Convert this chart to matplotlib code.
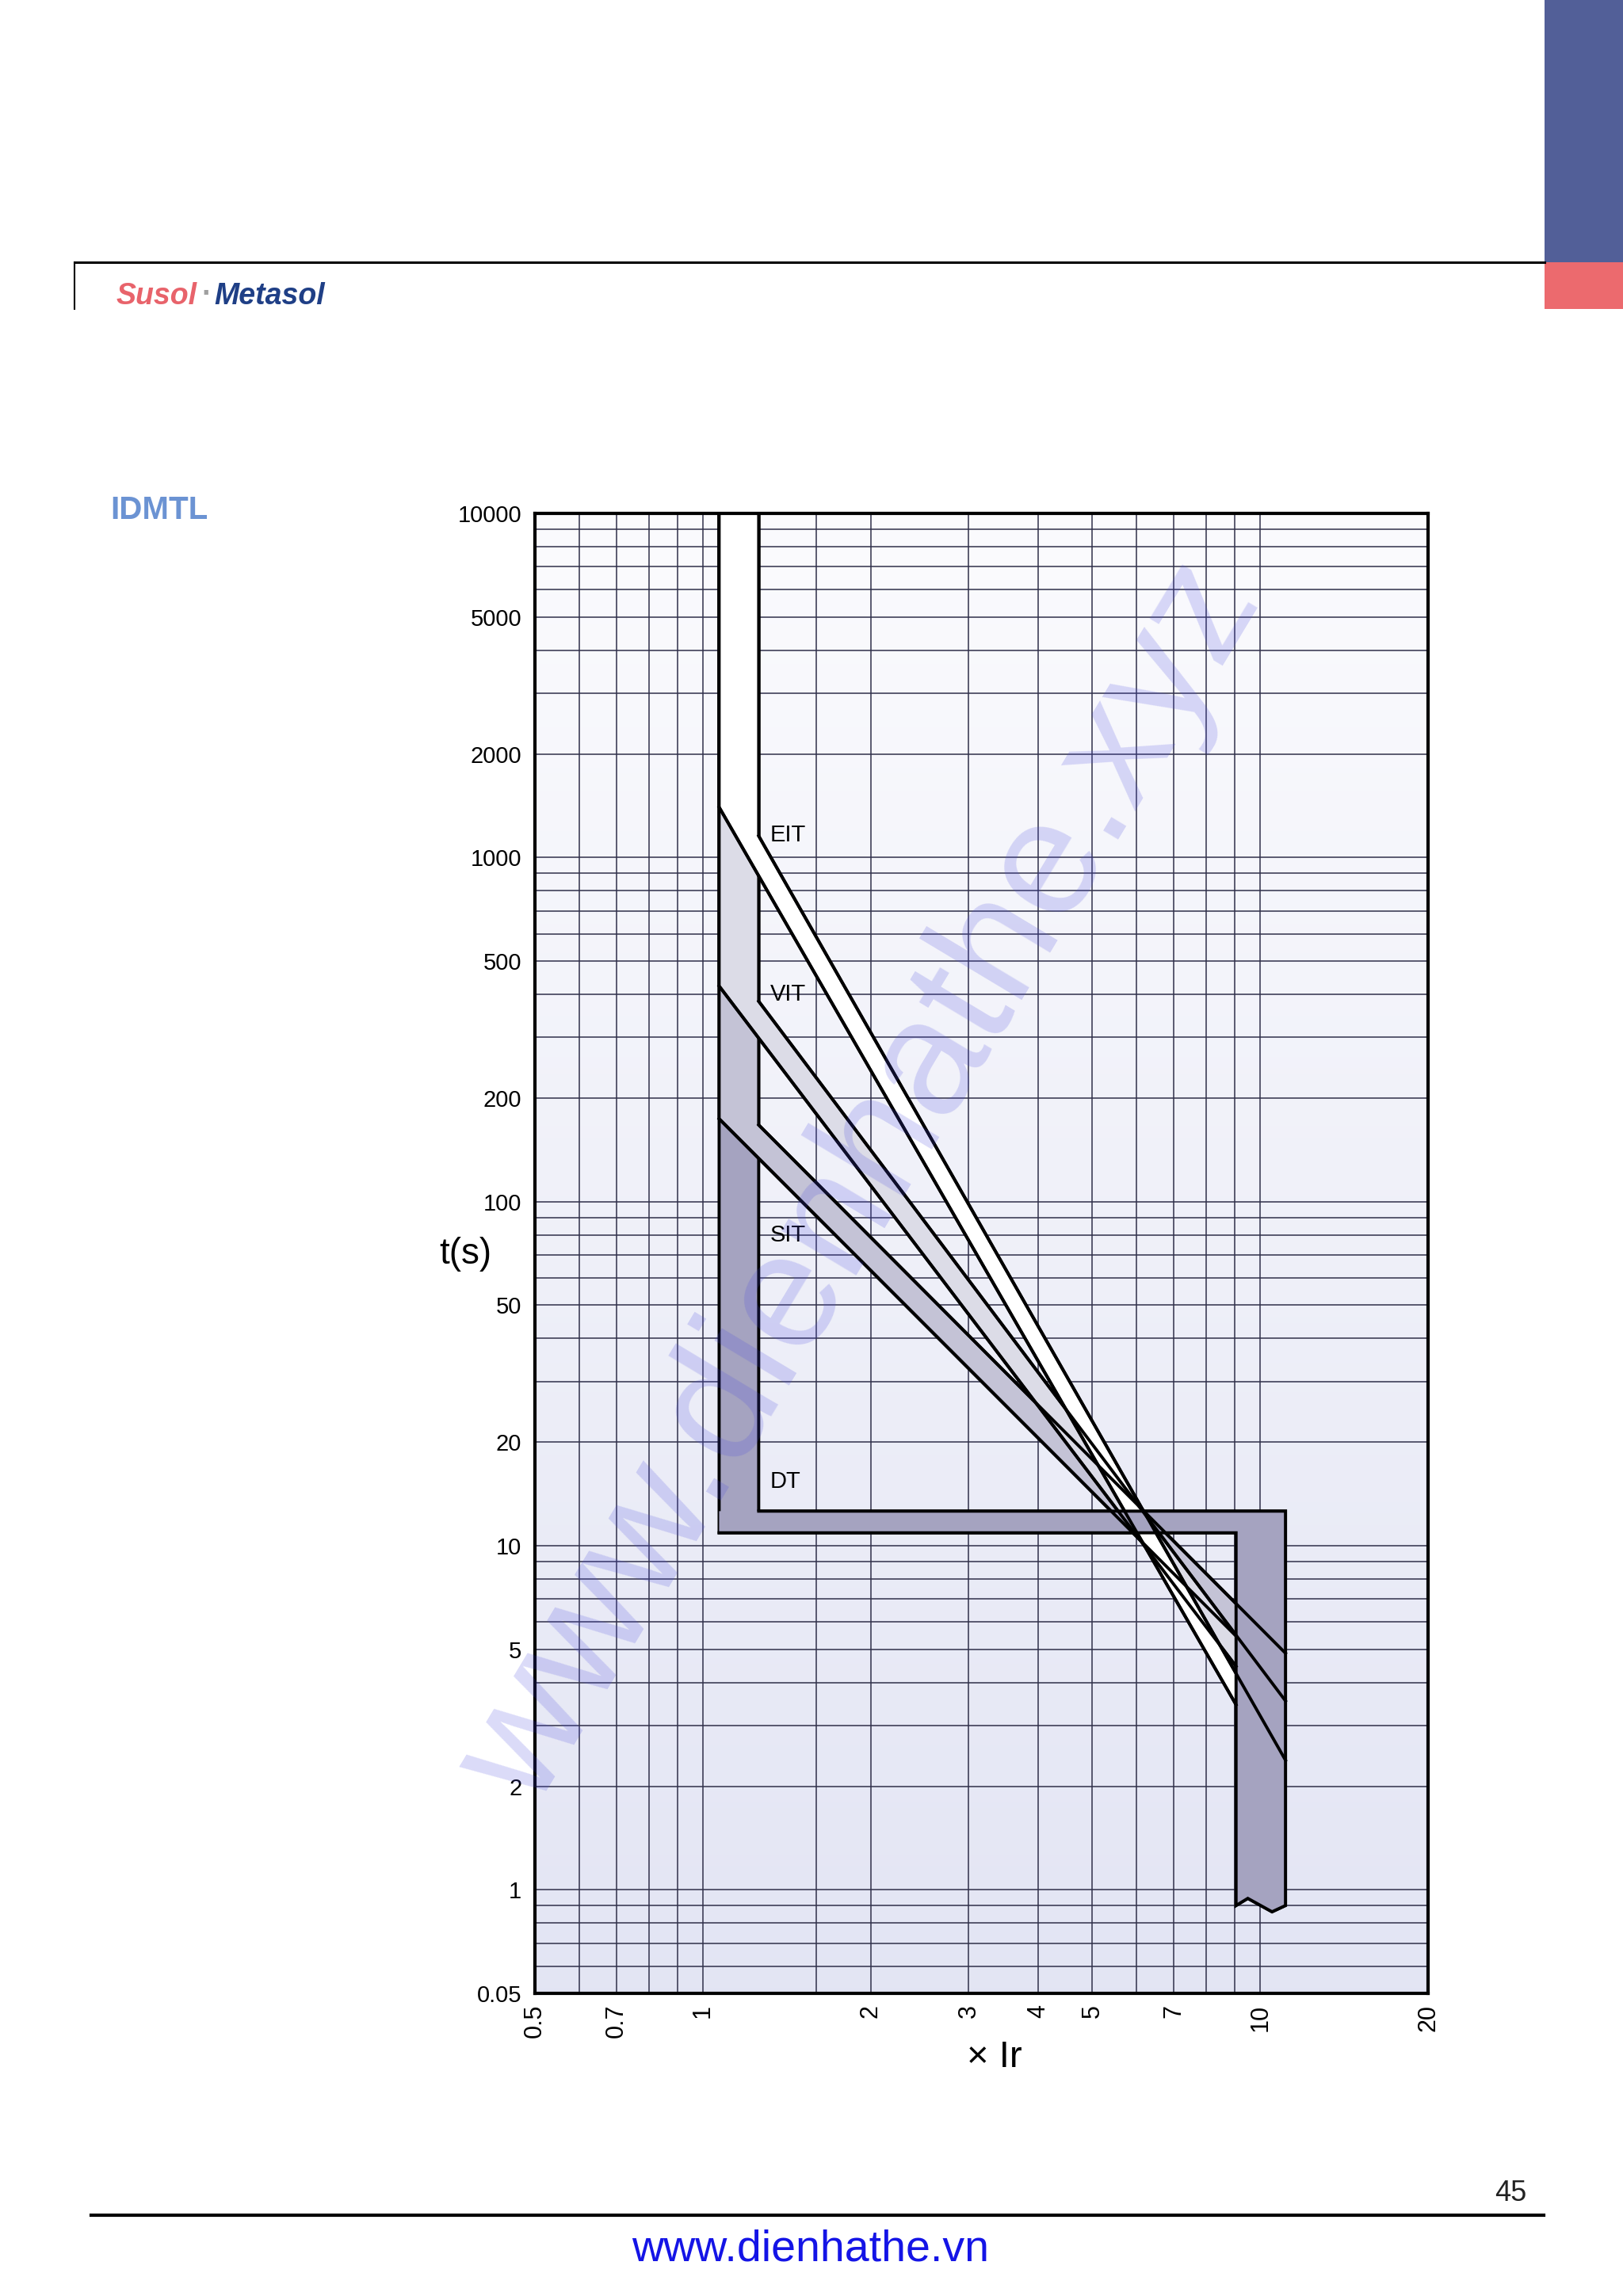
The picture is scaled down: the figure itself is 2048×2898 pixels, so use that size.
import matplotlib
matplotlib.use("Agg")
import matplotlib.pyplot as plt
import numpy as np
from matplotlib.patches import Rectangle, Polygon
from matplotlib.lines import Line2D

W, H = 2048, 2898          # page size in pixels (dpi 100)
FONT = "Liberation Sans"

# ---------------------------------------------------------------------------
# Values
# ---------------------------------------------------------------------------
x_ticks = [0.5, 0.7, 1, 2, 3, 4, 5, 7, 10, 20]
x_tick_labels = ["0.5", "0.7", "1", "2", "3", "4", "5", "7", "10", "20"]
x_grid = [0.6, 0.7, 0.8, 0.9, 1, 1.6, 2, 3, 4, 5, 6, 7, 8, 9, 10]

y_ticks = [0.5, 1, 2, 5, 10, 20, 50, 100, 200, 500, 1000, 2000, 5000, 10000]
y_tick_labels = ["0.05", "1", "2", "5", "10", "20", "50", "100", "200",
                 "500", "1000", "2000", "5000", "10000"]
y_grid = [m * 10.0 ** e for e in range(-1, 4) for m in range(1, 10)
          if 0.5 < m * 10.0 ** e < 10000]

x_min, x_max = 0.5, 20
t_min, t_max = 0.5, 10000

# pick-up tolerance strip and instantaneous (DT) column, in x Ir
ir_low, ir_high = 1.07, 1.26
dt_ir_low, dt_ir_high = 9.05, 11.1

# inverse-time bands: lower edge runs ir_low -> dt_ir_low,
# upper edge runs ir_high -> dt_ir_high
curve_names = ["SIT", "VIT", "EIT"]
lower_t_start = [174, 423, 1400]
lower_t_end = [5.46, 4.46, 3.45]
upper_t_start = [167, 382, 1155]
upper_t_end = [4.87, 3.54, 2.38]
band_colors = ["#c4c3d6", "#dcdce7", "#ffffff"]

# definite-time band
dt_t_low, dt_t_high = 10.9, 12.6
dt_tail_x = [9.05, 9.5, 10.5, 11.1]
dt_tail_t = [0.90, 0.944, 0.863, 0.90]
dt_color = "#a5a3c0"

# curve name labels (x Ir, t)
label_names = ["EIT", "VIT", "SIT", "DT"]
label_t = [1162, 400, 80, 15.4]
label_x = 1.32


def fx(px):
    return px / W


def fy(py):
    return 1 - py / H


fig = plt.figure(figsize=(W / 100, H / 100), dpi=100)
fig.patch.set_facecolor("white")

# ── page header ─────────────────────────────────────────────────────────────
fig.add_artist(Rectangle((fx(1949), fy(331)), fx(99), 331 / H,
                         transform=fig.transFigure, color="#525f98", lw=0))
fig.add_artist(Rectangle((fx(1949), fy(390)), fx(99), 59 / H,
                         transform=fig.transFigure, color="#ec6a6e", lw=0))
fig.add_artist(Line2D([fx(94), fx(1949)], [fy(331), fy(331)],
                      transform=fig.transFigure, color="black", lw=2.2))
fig.add_artist(Line2D([fx(94), fx(94)], [fy(331), fy(390)],
                      transform=fig.transFigure, color="black", lw=1.5))
fig.text(fx(147), fy(384), "Susol", fontsize=27, fontweight="bold",
         style="italic", color="#e8636b", family=FONT, va="baseline")
fig.text(fx(254), fy(382), "\u00b7", fontsize=27, fontweight="bold",
         color="#a0a0a0", family=FONT, va="baseline")
fig.text(fx(270), fy(384), "Metasol", fontsize=27, fontweight="bold",
         style="italic", color="#1f3f86", family=FONT, va="baseline")

fig.text(fx(139), fy(644), "IDMTL", fontsize=29, fontweight="bold",
         color="#6b93d3", family=FONT, va="center")

# ── footer ──────────────────────────────────────────────────────────────────
fig.text(fx(1926), fy(2769), "45", fontsize=26, color="#222222",
         family=FONT, ha="right", va="center")
fig.add_artist(Line2D([fx(115), fx(1948)], [fy(2796), fy(2796)],
                      transform=fig.transFigure, color="black", lw=3))
fig.text(fx(1023), fy(2840), "www.dienhathe.vn", fontsize=40,
         color="#1414e6", family=FONT, ha="center", va="center")

# ── chart area ──────────────────────────────────────────────────────────────
rect = [fx(675), fy(2516), (1802 - 675) / W, (2516 - 648) / H]

# gradient background in its own axes
bg = fig.add_axes(rect, zorder=0)
grad = np.linspace(0, 1, 256).reshape(-1, 1)
top = np.array([0.985, 0.985, 0.995])
bot = np.array([0.890, 0.898, 0.956])
img = top[None, None, :] * (1 - grad[..., None]) + bot[None, None, :] * grad[..., None]
bg.imshow(img, aspect="auto", extent=[0, 1, 0, 1])
bg.axis("off")

ax = fig.add_axes(rect, zorder=1)
ax.patch.set_alpha(0)
ax.set_xscale("log")
ax.set_yscale("log")
ax.set_xlim(x_min, x_max)
ax.set_ylim(t_min, t_max)

for g in x_grid:
    ax.axvline(g, color="#30304a", lw=1.1, zorder=1)
for g in y_grid:
    ax.axhline(g, color="#30304a", lw=1.1, zorder=1)

LW = 2.8
edge = dict(edgecolor="black", lw=LW, joinstyle="miter")

# definite-time band (background, covers the pick-up strip)
dt_poly = ([(ir_low, t_max), (ir_low, dt_t_low), (dt_ir_low, dt_t_low)]
           + list(zip(dt_tail_x, dt_tail_t))
           + [(dt_ir_high, dt_t_high), (ir_high, dt_t_high), (ir_high, t_max)])
ax.add_patch(Polygon(dt_poly, closed=True, facecolor=dt_color, zorder=2, **edge))

# inverse-time bands, SIT at the back, EIT in front
for i in range(len(curve_names)):
    poly = [(ir_low, t_max), (ir_low, lower_t_start[i]),
            (dt_ir_low, lower_t_end[i]), (dt_ir_high, upper_t_end[i]),
            (ir_high, upper_t_start[i]), (ir_high, t_max)]
    ax.add_patch(Polygon(poly, closed=True, facecolor=band_colors[i],
                         zorder=3 + i, **edge))

# DT L-shape drawn over the band fills
dt_front = ([(ir_low, dt_t_high), (ir_low, dt_t_low), (dt_ir_low, dt_t_low)]
            + list(zip(dt_tail_x, dt_tail_t))
            + [(dt_ir_high, dt_t_high)])
ax.add_patch(Polygon(dt_front, closed=True, facecolor=dt_color, lw=0, zorder=7))
dt_outline = ([(ir_high, dt_t_high), (dt_ir_high, dt_t_high)]
              + list(zip(dt_tail_x, dt_tail_t))[::-1]
              + [(dt_ir_low, dt_t_low), (ir_low, dt_t_low)])
ax.plot(*zip(*dt_outline), color="black", lw=LW, zorder=8,
        solid_joinstyle="miter")

# the band edges on top of everything
for i in range(len(curve_names)):
    ax.plot([ir_low, dt_ir_low], [lower_t_start[i], lower_t_end[i]],
            color="black", lw=LW, zorder=9)
    ax.plot([ir_high, dt_ir_high], [upper_t_start[i], upper_t_end[i]],
            color="black", lw=LW, zorder=9)

for name, t in zip(label_names, label_t):
    ax.text(label_x, t, name, fontsize=21, family=FONT, va="center",
            ha="left", zorder=10)

ax.set_xticks(x_ticks)
ax.set_xticklabels(x_tick_labels, rotation=90, family=FONT, fontsize=22)
ax.set_yticks(y_ticks)
ax.set_yticklabels(y_tick_labels, family=FONT, fontsize=21)
ax.minorticks_off()
ax.tick_params(axis="both", length=0)
ax.tick_params(axis="x", pad=10)
ax.tick_params(axis="y", pad=12)
for s in ax.spines.values():
    s.set_linewidth(3.0)
    s.set_zorder(11)

fig.text(fx(587), fy(1583), "t(s)", fontsize=33, family=FONT,
         ha="center", va="center")
fig.text(fx(1255), fy(2597), "\u00d7 Ir", fontsize=34, family=FONT,
         ha="center", va="center")

# watermark across the chart
fig.text(fx(1088), fy(1494), "www.dienhathe.xyz", fontsize=150,
         family=FONT, color="#4a4ae0", alpha=0.2, rotation=59,
         ha="center", va="center", rotation_mode="anchor", zorder=20)

fig.savefig("out.png", dpi=100)
